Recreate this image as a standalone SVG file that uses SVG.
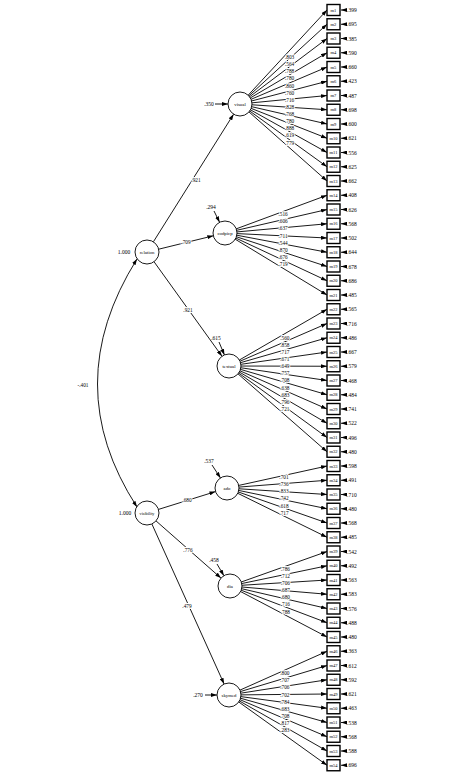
<svg xmlns="http://www.w3.org/2000/svg" width="474" height="774" viewBox="0 0 474 774">
<style>
text{font-family:"Liberation Serif","Times New Roman",serif;fill:#000}
.p{stroke:#000;stroke-width:0.9;fill:none;marker-end:url(#ah)}
.c{stroke:#000;stroke-width:0.9;fill:none;marker-start:url(#ahs);marker-end:url(#ah)}
.lab{font-size:5.3px;text-anchor:middle;dominant-baseline:central;stroke:#fff;stroke-width:1.8px;paint-order:stroke;stroke-linejoin:round}
.bx{fill:#fff;stroke:#000;stroke-width:1.4}
.bt{font-size:4.5px;text-anchor:middle;dominant-baseline:central}
.ev{font-size:5.5px;text-anchor:start;dominant-baseline:central}
.ci{fill:#fff;stroke:#000;stroke-width:0.9}
.cl{font-size:4.8px;text-anchor:middle;dominant-baseline:central}
.num{font-size:5.5px;text-anchor:middle;dominant-baseline:central}
</style>
<defs>
<marker id="ah" markerUnits="userSpaceOnUse" markerWidth="6" markerHeight="4" refX="6" refY="2" orient="auto"><path d="M0,0 L6,2 L0,4 z" fill="#000"/></marker>
<marker id="ahs" markerUnits="userSpaceOnUse" markerWidth="6" markerHeight="4" refX="0" refY="2" orient="auto"><path d="M6,0 L0,2 L6,4 z" fill="#000"/></marker>
</defs>
<rect width="474" height="774" fill="#fff"/>
<g id="connectors">
<path class="c" d="M137,259 Q58,385 137,507"/>
<text class="lab" x="83" y="385">-.401</text>
<line class="p" x1="153.4" y1="241.8" x2="233.6" y2="114.2"/>
<text class="lab" x="196" y="180">.921</text>
<line class="p" x1="158.7" y1="249.2" x2="213.3" y2="235.8"/>
<text class="lab" x="186" y="242">.709</text>
<line class="p" x1="154" y1="261.7" x2="222" y2="356.3"/>
<text class="lab" x="188" y="310">.921</text>
<line class="p" x1="158.5" y1="509.4" x2="215.5" y2="491.6"/>
<text class="lab" x="187" y="500">.680</text>
<line class="p" x1="156" y1="520.9" x2="221" y2="578.1"/>
<text class="lab" x="188" y="550">.776</text>
<line class="p" x1="151.9" y1="524" x2="224.1" y2="684"/>
<text class="lab" x="187" y="606">.479</text>
<line class="p" x1="215" y1="104" x2="228" y2="104"/>
<line class="p" x1="214" y1="211" x2="219.6" y2="222.3"/>
<line class="p" x1="219" y1="342" x2="224.4" y2="354.9"/>
<line class="p" x1="212" y1="465" x2="220.5" y2="478"/>
<line class="p" x1="217" y1="564" x2="223.9" y2="575.7"/>
<line class="p" x1="205" y1="695" x2="217" y2="695"/>
<line class="p" x1="240" y1="104" x2="327" y2="10"/>
<line class="p" x1="240" y1="104" x2="327" y2="24.25"/>
<line class="p" x1="240" y1="104" x2="327" y2="38.5"/>
<line class="p" x1="240" y1="104" x2="327" y2="52.75"/>
<line class="p" x1="240" y1="104" x2="327" y2="67"/>
<line class="p" x1="240" y1="104" x2="327" y2="81.25"/>
<line class="p" x1="240" y1="104" x2="327" y2="95.5"/>
<line class="p" x1="240" y1="104" x2="327" y2="109.75"/>
<line class="p" x1="240" y1="104" x2="327" y2="124"/>
<line class="p" x1="240" y1="104" x2="327" y2="138.25"/>
<line class="p" x1="240" y1="104" x2="327" y2="152.5"/>
<line class="p" x1="240" y1="104" x2="327" y2="166.75"/>
<line class="p" x1="240" y1="104" x2="327" y2="181"/>
<line class="p" x1="225" y1="233" x2="327" y2="195.25"/>
<line class="p" x1="225" y1="233" x2="327" y2="209.5"/>
<line class="p" x1="225" y1="233" x2="327" y2="223.75"/>
<line class="p" x1="225" y1="233" x2="327" y2="238"/>
<line class="p" x1="225" y1="233" x2="327" y2="252.25"/>
<line class="p" x1="225" y1="233" x2="327" y2="266.5"/>
<line class="p" x1="225" y1="233" x2="327" y2="280.75"/>
<line class="p" x1="225" y1="233" x2="327" y2="295"/>
<line class="p" x1="229" y1="366" x2="327" y2="309.25"/>
<line class="p" x1="229" y1="366" x2="327" y2="323.5"/>
<line class="p" x1="229" y1="366" x2="327" y2="337.75"/>
<line class="p" x1="229" y1="366" x2="327" y2="352"/>
<line class="p" x1="229" y1="366" x2="327" y2="366.25"/>
<line class="p" x1="229" y1="366" x2="327" y2="380.5"/>
<line class="p" x1="229" y1="366" x2="327" y2="394.75"/>
<line class="p" x1="229" y1="366" x2="327" y2="409"/>
<line class="p" x1="229" y1="366" x2="327" y2="423.25"/>
<line class="p" x1="229" y1="366" x2="327" y2="437.5"/>
<line class="p" x1="229" y1="366" x2="327" y2="451.75"/>
<line class="p" x1="227" y1="488" x2="327" y2="466"/>
<line class="p" x1="227" y1="488" x2="327" y2="480.25"/>
<line class="p" x1="227" y1="488" x2="327" y2="494.5"/>
<line class="p" x1="227" y1="488" x2="327" y2="508.75"/>
<line class="p" x1="227" y1="488" x2="327" y2="523"/>
<line class="p" x1="227" y1="488" x2="327" y2="537.25"/>
<line class="p" x1="230" y1="586" x2="327" y2="551.5"/>
<line class="p" x1="230" y1="586" x2="327" y2="565.75"/>
<line class="p" x1="230" y1="586" x2="327" y2="580"/>
<line class="p" x1="230" y1="586" x2="327" y2="594.25"/>
<line class="p" x1="230" y1="586" x2="327" y2="608.5"/>
<line class="p" x1="230" y1="586" x2="327" y2="622.75"/>
<line class="p" x1="230" y1="586" x2="327" y2="637"/>
<line class="p" x1="229" y1="695" x2="327" y2="651.25"/>
<line class="p" x1="229" y1="695" x2="327" y2="665.5"/>
<line class="p" x1="229" y1="695" x2="327" y2="679.75"/>
<line class="p" x1="229" y1="695" x2="327" y2="694"/>
<line class="p" x1="229" y1="695" x2="327" y2="708.25"/>
<line class="p" x1="229" y1="695" x2="327" y2="722.5"/>
<line class="p" x1="229" y1="695" x2="327" y2="736.75"/>
<line class="p" x1="229" y1="695" x2="327" y2="751"/>
<line class="p" x1="229" y1="695" x2="327" y2="765.25"/>
<text class="lab" x="289.6" y="57">.803</text>
<text class="lab" x="289.6" y="64.1">.564</text>
<text class="lab" x="289.6" y="71.25">.788</text>
<text class="lab" x="289.6" y="78.4">.780</text>
<text class="lab" x="289.6" y="85.5">.860</text>
<text class="lab" x="289.6" y="92.6">.760</text>
<text class="lab" x="289.6" y="99.75">.716</text>
<text class="lab" x="289.6" y="106.9">.828</text>
<text class="lab" x="289.6" y="114">.768</text>
<text class="lab" x="289.6" y="121.1">.780</text>
<text class="lab" x="289.6" y="128.25">.888</text>
<text class="lab" x="289.6" y="135.4">.619</text>
<text class="lab" x="289.6" y="142.5">.779</text>
<text class="lab" x="283.1" y="214.1">.516</text>
<text class="lab" x="283.1" y="221.25">.606</text>
<text class="lab" x="283.1" y="228.4">.637</text>
<text class="lab" x="283.1" y="235.5">.711</text>
<text class="lab" x="283.1" y="242.6">.544</text>
<text class="lab" x="283.1" y="249.75">.870</text>
<text class="lab" x="283.1" y="256.9">.676</text>
<text class="lab" x="283.1" y="264">.719</text>
<text class="lab" x="284.9" y="337.6">.560</text>
<text class="lab" x="284.9" y="344.75">.858</text>
<text class="lab" x="284.9" y="351.9">.717</text>
<text class="lab" x="284.9" y="359">.671</text>
<text class="lab" x="284.9" y="366.1">.649</text>
<text class="lab" x="284.9" y="373.25">.757</text>
<text class="lab" x="284.9" y="380.4">.708</text>
<text class="lab" x="284.9" y="387.5">.638</text>
<text class="lab" x="284.9" y="394.6">.683</text>
<text class="lab" x="284.9" y="401.75">.796</text>
<text class="lab" x="284.9" y="408.9">.721</text>
<text class="lab" x="284" y="477">.701</text>
<text class="lab" x="284" y="484.1">.736</text>
<text class="lab" x="284" y="491.25">.833</text>
<text class="lab" x="284" y="498.4">.742</text>
<text class="lab" x="284" y="505.5">.618</text>
<text class="lab" x="284" y="512.6">.717</text>
<text class="lab" x="285.3" y="568.75">.786</text>
<text class="lab" x="285.3" y="575.9">.712</text>
<text class="lab" x="285.3" y="583">.706</text>
<text class="lab" x="285.3" y="590.1">.687</text>
<text class="lab" x="285.3" y="597.25">.680</text>
<text class="lab" x="285.3" y="604.4">.716</text>
<text class="lab" x="285.3" y="611.5">.788</text>
<text class="lab" x="284.9" y="673.1">.800</text>
<text class="lab" x="284.9" y="680.25">.707</text>
<text class="lab" x="284.9" y="687.4">.706</text>
<text class="lab" x="284.9" y="694.5">.702</text>
<text class="lab" x="284.9" y="701.6">.784</text>
<text class="lab" x="284.9" y="708.75">.683</text>
<text class="lab" x="284.9" y="715.9">.708</text>
<text class="lab" x="284.9" y="723">.817</text>
<text class="lab" x="284.9" y="730.1">.283</text>
<line class="p" x1="346" y1="10" x2="341" y2="10"/>
<line class="p" x1="346" y1="24.25" x2="341" y2="24.25"/>
<line class="p" x1="346" y1="38.5" x2="341" y2="38.5"/>
<line class="p" x1="346" y1="52.75" x2="341" y2="52.75"/>
<line class="p" x1="346" y1="67" x2="341" y2="67"/>
<line class="p" x1="346" y1="81.25" x2="341" y2="81.25"/>
<line class="p" x1="346" y1="95.5" x2="341" y2="95.5"/>
<line class="p" x1="346" y1="109.75" x2="341" y2="109.75"/>
<line class="p" x1="346" y1="124" x2="341" y2="124"/>
<line class="p" x1="346" y1="138.25" x2="341" y2="138.25"/>
<line class="p" x1="346" y1="152.5" x2="341" y2="152.5"/>
<line class="p" x1="346" y1="166.75" x2="341" y2="166.75"/>
<line class="p" x1="346" y1="181" x2="341" y2="181"/>
<line class="p" x1="346" y1="195.25" x2="341" y2="195.25"/>
<line class="p" x1="346" y1="209.5" x2="341" y2="209.5"/>
<line class="p" x1="346" y1="223.75" x2="341" y2="223.75"/>
<line class="p" x1="346" y1="238" x2="341" y2="238"/>
<line class="p" x1="346" y1="252.25" x2="341" y2="252.25"/>
<line class="p" x1="346" y1="266.5" x2="341" y2="266.5"/>
<line class="p" x1="346" y1="280.75" x2="341" y2="280.75"/>
<line class="p" x1="346" y1="295" x2="341" y2="295"/>
<line class="p" x1="346" y1="309.25" x2="341" y2="309.25"/>
<line class="p" x1="346" y1="323.5" x2="341" y2="323.5"/>
<line class="p" x1="346" y1="337.75" x2="341" y2="337.75"/>
<line class="p" x1="346" y1="352" x2="341" y2="352"/>
<line class="p" x1="346" y1="366.25" x2="341" y2="366.25"/>
<line class="p" x1="346" y1="380.5" x2="341" y2="380.5"/>
<line class="p" x1="346" y1="394.75" x2="341" y2="394.75"/>
<line class="p" x1="346" y1="409" x2="341" y2="409"/>
<line class="p" x1="346" y1="423.25" x2="341" y2="423.25"/>
<line class="p" x1="346" y1="437.5" x2="341" y2="437.5"/>
<line class="p" x1="346" y1="451.75" x2="341" y2="451.75"/>
<line class="p" x1="346" y1="466" x2="341" y2="466"/>
<line class="p" x1="346" y1="480.25" x2="341" y2="480.25"/>
<line class="p" x1="346" y1="494.5" x2="341" y2="494.5"/>
<line class="p" x1="346" y1="508.75" x2="341" y2="508.75"/>
<line class="p" x1="346" y1="523" x2="341" y2="523"/>
<line class="p" x1="346" y1="537.25" x2="341" y2="537.25"/>
<line class="p" x1="346" y1="551.5" x2="341" y2="551.5"/>
<line class="p" x1="346" y1="565.75" x2="341" y2="565.75"/>
<line class="p" x1="346" y1="580" x2="341" y2="580"/>
<line class="p" x1="346" y1="594.25" x2="341" y2="594.25"/>
<line class="p" x1="346" y1="608.5" x2="341" y2="608.5"/>
<line class="p" x1="346" y1="622.75" x2="341" y2="622.75"/>
<line class="p" x1="346" y1="637" x2="341" y2="637"/>
<line class="p" x1="346" y1="651.25" x2="341" y2="651.25"/>
<line class="p" x1="346" y1="665.5" x2="341" y2="665.5"/>
<line class="p" x1="346" y1="679.75" x2="341" y2="679.75"/>
<line class="p" x1="346" y1="694" x2="341" y2="694"/>
<line class="p" x1="346" y1="708.25" x2="341" y2="708.25"/>
<line class="p" x1="346" y1="722.5" x2="341" y2="722.5"/>
<line class="p" x1="346" y1="736.75" x2="341" y2="736.75"/>
<line class="p" x1="346" y1="751" x2="341" y2="751"/>
<line class="p" x1="346" y1="765.25" x2="341" y2="765.25"/>
</g>
<g id="relation"><circle class="ci" cx="147" cy="252" r="12"/><text class="cl" x="147" y="252">relation</text><text class="num" x="124" y="252">1.000</text></g>
<g id="visibility"><circle class="ci" cx="147" cy="513" r="12"/><text class="cl" x="147" y="513" style="font-size:4.2px">visibility</text><text class="num" x="125" y="513">1.000</text></g>
<g id="visual"><circle class="ci" cx="240" cy="104" r="12"/><text class="cl" x="240" y="104">visual</text><text class="num" x="209" y="104">.350</text></g>
<g id="codpicp"><circle class="ci" cx="225" cy="233" r="12"/><text class="cl" x="225" y="233">codpicp</text><text class="num" x="211" y="207">.294</text></g>
<g id="textual"><circle class="ci" cx="229" cy="366" r="12"/><text class="cl" x="229" y="366">textual</text><text class="num" x="216" y="338">.615</text></g>
<g id="ado"><circle class="ci" cx="227" cy="488" r="12"/><text class="cl" x="227" y="488">ado</text><text class="num" x="209" y="461">.537</text></g>
<g id="dia"><circle class="ci" cx="230" cy="586" r="12"/><text class="cl" x="230" y="586">dia</text><text class="num" x="214" y="560">.458</text></g>
<g id="skymed"><circle class="ci" cx="229" cy="695" r="12"/><text class="cl" x="229" y="695">skymed</text><text class="num" x="198" y="695">.270</text></g>
<g id="m1"><rect class="bx" x="327" y="4.5" width="13" height="11"/><text class="bt" x="333.5" y="10">m1</text><text class="ev" x="347" y="10">.399</text></g>
<g id="m2"><rect class="bx" x="327" y="18.75" width="13" height="11"/><text class="bt" x="333.5" y="24.25">m2</text><text class="ev" x="347" y="24.25">.695</text></g>
<g id="m3"><rect class="bx" x="327" y="33" width="13" height="11"/><text class="bt" x="333.5" y="38.5">m3</text><text class="ev" x="347" y="38.5">.385</text></g>
<g id="m4"><rect class="bx" x="327" y="47.25" width="13" height="11"/><text class="bt" x="333.5" y="52.75">m4</text><text class="ev" x="347" y="52.75">.590</text></g>
<g id="m5"><rect class="bx" x="327" y="61.5" width="13" height="11"/><text class="bt" x="333.5" y="67">m5</text><text class="ev" x="347" y="67">.660</text></g>
<g id="m6"><rect class="bx" x="327" y="75.75" width="13" height="11"/><text class="bt" x="333.5" y="81.25">m6</text><text class="ev" x="347" y="81.25">.423</text></g>
<g id="m7"><rect class="bx" x="327" y="90" width="13" height="11"/><text class="bt" x="333.5" y="95.5">m7</text><text class="ev" x="347" y="95.5">.487</text></g>
<g id="m8"><rect class="bx" x="327" y="104.25" width="13" height="11"/><text class="bt" x="333.5" y="109.75">m8</text><text class="ev" x="347" y="109.75">.698</text></g>
<g id="m9"><rect class="bx" x="327" y="118.5" width="13" height="11"/><text class="bt" x="333.5" y="124">m9</text><text class="ev" x="347" y="124">.600</text></g>
<g id="m10"><rect class="bx" x="327" y="132.75" width="13" height="11"/><text class="bt" x="333.5" y="138.25">m10</text><text class="ev" x="347" y="138.25">.621</text></g>
<g id="m11"><rect class="bx" x="327" y="147" width="13" height="11"/><text class="bt" x="333.5" y="152.5">m11</text><text class="ev" x="347" y="152.5">.556</text></g>
<g id="m12"><rect class="bx" x="327" y="161.25" width="13" height="11"/><text class="bt" x="333.5" y="166.75">m12</text><text class="ev" x="347" y="166.75">.625</text></g>
<g id="m13"><rect class="bx" x="327" y="175.5" width="13" height="11"/><text class="bt" x="333.5" y="181">m13</text><text class="ev" x="347" y="181">.662</text></g>
<g id="m14"><rect class="bx" x="327" y="189.75" width="13" height="11"/><text class="bt" x="333.5" y="195.25">m14</text><text class="ev" x="347" y="195.25">.408</text></g>
<g id="m15"><rect class="bx" x="327" y="204" width="13" height="11"/><text class="bt" x="333.5" y="209.5">m15</text><text class="ev" x="347" y="209.5">.626</text></g>
<g id="m16"><rect class="bx" x="327" y="218.25" width="13" height="11"/><text class="bt" x="333.5" y="223.75">m16</text><text class="ev" x="347" y="223.75">.568</text></g>
<g id="m17"><rect class="bx" x="327" y="232.5" width="13" height="11"/><text class="bt" x="333.5" y="238">m17</text><text class="ev" x="347" y="238">.502</text></g>
<g id="m18"><rect class="bx" x="327" y="246.75" width="13" height="11"/><text class="bt" x="333.5" y="252.25">m18</text><text class="ev" x="347" y="252.25">.644</text></g>
<g id="m19"><rect class="bx" x="327" y="261" width="13" height="11"/><text class="bt" x="333.5" y="266.5">m19</text><text class="ev" x="347" y="266.5">.678</text></g>
<g id="m20"><rect class="bx" x="327" y="275.25" width="13" height="11"/><text class="bt" x="333.5" y="280.75">m20</text><text class="ev" x="347" y="280.75">.686</text></g>
<g id="m21"><rect class="bx" x="327" y="289.5" width="13" height="11"/><text class="bt" x="333.5" y="295">m21</text><text class="ev" x="347" y="295">.485</text></g>
<g id="m22"><rect class="bx" x="327" y="303.75" width="13" height="11"/><text class="bt" x="333.5" y="309.25">m22</text><text class="ev" x="347" y="309.25">.565</text></g>
<g id="m23"><rect class="bx" x="327" y="318" width="13" height="11"/><text class="bt" x="333.5" y="323.5">m23</text><text class="ev" x="347" y="323.5">.716</text></g>
<g id="m24"><rect class="bx" x="327" y="332.25" width="13" height="11"/><text class="bt" x="333.5" y="337.75">m24</text><text class="ev" x="347" y="337.75">.486</text></g>
<g id="m25"><rect class="bx" x="327" y="346.5" width="13" height="11"/><text class="bt" x="333.5" y="352">m25</text><text class="ev" x="347" y="352">.667</text></g>
<g id="m26"><rect class="bx" x="327" y="360.75" width="13" height="11"/><text class="bt" x="333.5" y="366.25">m26</text><text class="ev" x="347" y="366.25">.579</text></g>
<g id="m27"><rect class="bx" x="327" y="375" width="13" height="11"/><text class="bt" x="333.5" y="380.5">m27</text><text class="ev" x="347" y="380.5">.468</text></g>
<g id="m28"><rect class="bx" x="327" y="389.25" width="13" height="11"/><text class="bt" x="333.5" y="394.75">m28</text><text class="ev" x="347" y="394.75">.484</text></g>
<g id="m29"><rect class="bx" x="327" y="403.5" width="13" height="11"/><text class="bt" x="333.5" y="409">m29</text><text class="ev" x="347" y="409">.741</text></g>
<g id="m30"><rect class="bx" x="327" y="417.75" width="13" height="11"/><text class="bt" x="333.5" y="423.25">m30</text><text class="ev" x="347" y="423.25">.522</text></g>
<g id="m31"><rect class="bx" x="327" y="432" width="13" height="11"/><text class="bt" x="333.5" y="437.5">m31</text><text class="ev" x="347" y="437.5">.496</text></g>
<g id="m32"><rect class="bx" x="327" y="446.25" width="13" height="11"/><text class="bt" x="333.5" y="451.75">m32</text><text class="ev" x="347" y="451.75">.480</text></g>
<g id="m33"><rect class="bx" x="327" y="460.5" width="13" height="11"/><text class="bt" x="333.5" y="466">m33</text><text class="ev" x="347" y="466">.598</text></g>
<g id="m34"><rect class="bx" x="327" y="474.75" width="13" height="11"/><text class="bt" x="333.5" y="480.25">m34</text><text class="ev" x="347" y="480.25">.491</text></g>
<g id="m35"><rect class="bx" x="327" y="489" width="13" height="11"/><text class="bt" x="333.5" y="494.5">m35</text><text class="ev" x="347" y="494.5">.710</text></g>
<g id="m36"><rect class="bx" x="327" y="503.25" width="13" height="11"/><text class="bt" x="333.5" y="508.75">m36</text><text class="ev" x="347" y="508.75">.480</text></g>
<g id="m37"><rect class="bx" x="327" y="517.5" width="13" height="11"/><text class="bt" x="333.5" y="523">m37</text><text class="ev" x="347" y="523">.568</text></g>
<g id="m38"><rect class="bx" x="327" y="531.75" width="13" height="11"/><text class="bt" x="333.5" y="537.25">m38</text><text class="ev" x="347" y="537.25">.485</text></g>
<g id="m39"><rect class="bx" x="327" y="546" width="13" height="11"/><text class="bt" x="333.5" y="551.5">m39</text><text class="ev" x="347" y="551.5">.542</text></g>
<g id="m40"><rect class="bx" x="327" y="560.25" width="13" height="11"/><text class="bt" x="333.5" y="565.75">m40</text><text class="ev" x="347" y="565.75">.492</text></g>
<g id="m41"><rect class="bx" x="327" y="574.5" width="13" height="11"/><text class="bt" x="333.5" y="580">m41</text><text class="ev" x="347" y="580">.563</text></g>
<g id="m42"><rect class="bx" x="327" y="588.75" width="13" height="11"/><text class="bt" x="333.5" y="594.25">m42</text><text class="ev" x="347" y="594.25">.583</text></g>
<g id="m43"><rect class="bx" x="327" y="603" width="13" height="11"/><text class="bt" x="333.5" y="608.5">m43</text><text class="ev" x="347" y="608.5">.576</text></g>
<g id="m44"><rect class="bx" x="327" y="617.25" width="13" height="11"/><text class="bt" x="333.5" y="622.75">m44</text><text class="ev" x="347" y="622.75">.488</text></g>
<g id="m45"><rect class="bx" x="327" y="631.5" width="13" height="11"/><text class="bt" x="333.5" y="637">m45</text><text class="ev" x="347" y="637">.480</text></g>
<g id="m46"><rect class="bx" x="327" y="645.75" width="13" height="11"/><text class="bt" x="333.5" y="651.25">m46</text><text class="ev" x="347" y="651.25">.363</text></g>
<g id="m47"><rect class="bx" x="327" y="660" width="13" height="11"/><text class="bt" x="333.5" y="665.5">m47</text><text class="ev" x="347" y="665.5">.612</text></g>
<g id="m48"><rect class="bx" x="327" y="674.25" width="13" height="11"/><text class="bt" x="333.5" y="679.75">m48</text><text class="ev" x="347" y="679.75">.592</text></g>
<g id="m49"><rect class="bx" x="327" y="688.5" width="13" height="11"/><text class="bt" x="333.5" y="694">m49</text><text class="ev" x="347" y="694">.621</text></g>
<g id="m50"><rect class="bx" x="327" y="702.75" width="13" height="11"/><text class="bt" x="333.5" y="708.25">m50</text><text class="ev" x="347" y="708.25">.463</text></g>
<g id="m51"><rect class="bx" x="327" y="717" width="13" height="11"/><text class="bt" x="333.5" y="722.5">m51</text><text class="ev" x="347" y="722.5">.538</text></g>
<g id="m52"><rect class="bx" x="327" y="731.25" width="13" height="11"/><text class="bt" x="333.5" y="736.75">m52</text><text class="ev" x="347" y="736.75">.568</text></g>
<g id="m53"><rect class="bx" x="327" y="745.5" width="13" height="11"/><text class="bt" x="333.5" y="751">m53</text><text class="ev" x="347" y="751">.588</text></g>
<g id="m54"><rect class="bx" x="327" y="759.75" width="13" height="11"/><text class="bt" x="333.5" y="765.25">m54</text><text class="ev" x="347" y="765.25">.696</text></g>
</svg>
